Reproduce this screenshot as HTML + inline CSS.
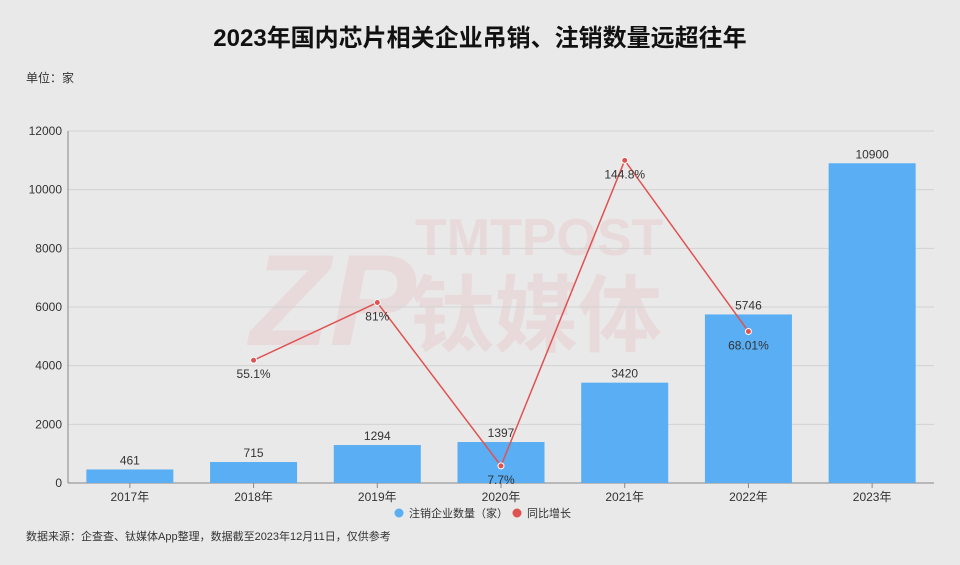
<!DOCTYPE html>
<html><head><meta charset="utf-8"><style>
body{margin:0;background:#e9e9e9;font-family:"Liberation Sans","Noto Sans CJK SC",sans-serif;}
svg text{font-family:"Liberation Sans","Noto Sans CJK SC",sans-serif;}
</style></head><body>
<svg id="c" width="960" height="560">
<rect width="960" height="560" fill="#e9e9e9"/>
<text x="480" y="46" text-anchor="middle" font-size="24" font-weight="bold" fill="#111">2023年国内芯片相关企业吊销、注销数量远超往年</text>
<text x="26" y="82" font-size="12" fill="#333">单位：家</text>
<g opacity="0.08">
<text x="415" y="255" font-size="52" font-weight="bold" fill="#d33">TMTPOST</text>
<text x="410" y="345" font-size="84" font-weight="bold" fill="#d33">钛媒体</text>
<text x="250" y="345" font-size="130" font-weight="bold" font-style="italic" fill="#d33">ZP</text>
</g>
<g id="grid"></g><g id="bars"></g><g id="line"></g><g id="axes"></g>
<g>
<circle cx="399" cy="513" r="4.5" fill="#5aaef3"/>
<text x="409" y="517" font-size="11" fill="#333">注销企业数量（家）</text>
<circle cx="517" cy="513" r="4.5" fill="#e05252"/>
<text x="527" y="517" font-size="11" fill="#333">同比增长</text>
</g>
<text x="26" y="540" font-size="11" fill="#333">数据来源：企查查、钛媒体App整理，数据截至2023年12月11日，仅供参考</text>
</svg>
<script>
const categories=["2017年","2018年","2019年","2020年","2021年","2022年","2023年"];
const counts=[461,715,1294,1397,3420,5746,10900];
const growth=[null,55.1,81,7.7,144.8,68.01,null];
const growthLabels=["","55.1%","81%","7.7%","144.8%","68.01%",""];
const yTicks=[0,2000,4000,6000,8000,10000,12000];
const NS="http://www.w3.org/2000/svg";
const L=68,R=934,T=131,B=483,band=(R-L)/categories.length;
const x=i=>L+band*(i+0.5);
const y=v=>B-(v/12000)*(B-T);
const y2=v=>B-(v/158)*(B-T);
function mk(t,a,p){const e=document.createElementNS(NS,t);for(const k in a)e.setAttribute(k,a[k]);p.appendChild(e);return e;}
const G=document.getElementById('grid'),Bg=document.getElementById('bars'),Lg=document.getElementById('line'),A=document.getElementById('axes');
yTicks.forEach(v=>{
 const l=mk('line',{x1:L,x2:R,y1:y(v),y2:y(v),stroke:v?'#d2d2d2':'#888','stroke-width':1},G);
 
 
 const t=mk('text',{x:L-6,y:y(v)+4,'text-anchor':'end','font-size':12,fill:'#333'},A);t.textContent=v;
 
 
});
mk('line',{x1:L,x2:L,y1:T,y2:B,stroke:'#888'},A);
categories.forEach((c,i)=>{
 const bw=87;
 const r=mk('rect',{x:x(i)-bw/2,y:y(counts[i]),width:bw,height:B-y(counts[i]),fill:'#5aaef3'},Bg);
 
 
 const t=mk('text',{x:x(i),y:y(counts[i])-5,'text-anchor':'middle','font-size':12,fill:'#333'},Bg);t.textContent=counts[i];
 
 
 const tk=mk('line',{x1:x(i),x2:x(i),y1:B,y2:B+5,stroke:'#888'},A);
 const xl=mk('text',{x:x(i),y:B+18,'text-anchor':'middle','font-size':12,fill:'#333'},A);xl.textContent=c;
 
 
});
let pts=[];growth.forEach((g,i)=>{if(g!=null)pts.push([x(i),y2(g),i]);});
const pl=mk('polyline',{points:pts.map(p=>p[0]+','+p[1]).join(' '),fill:'none',stroke:'#e05252','stroke-width':1.5},Lg);


pts.forEach(p=>{
 const c=mk('circle',{cx:p[0],cy:p[1],r:3,fill:'#e05252',stroke:'#fff','stroke-width':1},Lg);
 
 
 const t=mk('text',{x:p[0],y:p[1]+18,'text-anchor':'middle','font-size':12,fill:'#333'},Lg);t.textContent=growthLabels[p[2]];
 
 
});
</script>
</body></html>
